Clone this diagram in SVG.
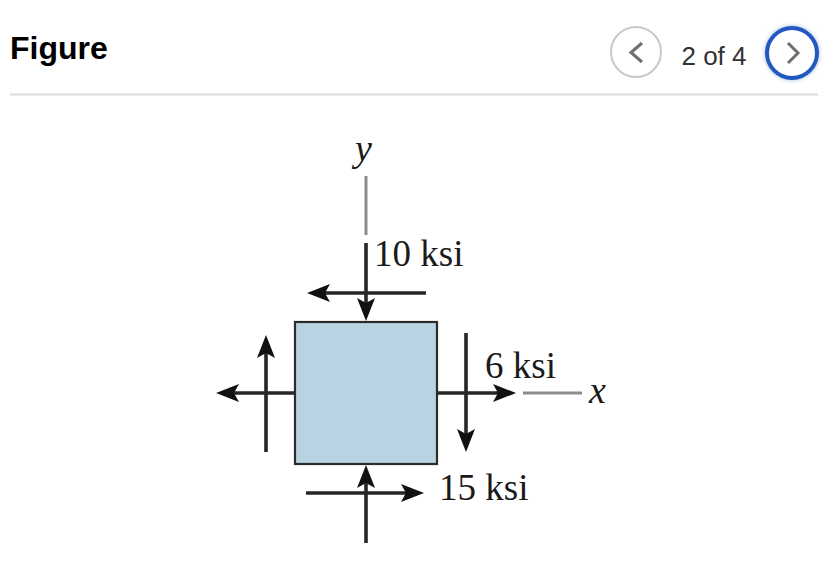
<svg xmlns="http://www.w3.org/2000/svg" width="832" height="582" viewBox="0 0 832 582">
<style>
.ui{font-family:"Liberation Sans",Arial,sans-serif}
.lab{font-family:"Liberation Serif","Times New Roman",serif;font-size:37px;fill:#1a1a1a}
.ax{font-family:"Liberation Serif","Times New Roman",serif;font-size:38px;font-style:italic;fill:#1a1a1a}
.f{stroke:#262626;stroke-width:3.6;fill:none}
.g{stroke:#8c8c8c;stroke-width:3;fill:none}
.h{fill:#111}
.chev{fill:none;stroke:#6b6f6f;stroke-width:3}
</style>
<defs>
<filter id="glow" x="-30%" y="-30%" width="160%" height="160%"><feGaussianBlur stdDeviation="2"/></filter>
<path id="ah" d="M0 0L-23 -9L-18 0L-23 9Z"/>
</defs>
<rect width="832" height="582" fill="#fff"/>
<g id="header">
<text class="ui" x="10" y="59" font-size="32" font-weight="700" fill="#000">Figure</text>
<line x1="10" y1="94.500" x2="818" y2="94.500" stroke="#dcdcdc" stroke-width="2"/>
</g>
<g id="prev">
<circle cx="636" cy="52" r="25" fill="#fff" stroke="#c9c9c9" stroke-width="2"/>
<path class="chev" d="M642 43L631 52.500L642 62"/>
</g>
<text id="pager" class="ui" x="714" y="65" font-size="26" text-anchor="middle" fill="#333">2 of 4</text>
<g id="next">
<circle cx="792" cy="53" r="27" fill="#9fb8dc" filter="url(#glow)"/>
<circle cx="792" cy="53" r="25" fill="#fff" stroke="#2159c0" stroke-width="4"/>
<path class="chev" d="M788 43L798 53L788 63"/>
</g>
<g id="connectors">
<path class="g" d="M366 176V235M523 393H582"/>
<path class="f" d="M366 243V305M426 293H322M295 393H231M266 452V350M437 393H501M466 333V437M366 543V480M306 493H409"/>
<use href="#ah" class="h" transform="translate(366 321) rotate(90)"/>
<use href="#ah" class="h" transform="translate(307 293) rotate(180)"/>
<use href="#ah" class="h" transform="translate(216 393) rotate(180)"/>
<use href="#ah" class="h" transform="translate(266 335) rotate(-90)"/>
<use href="#ah" class="h" transform="translate(516 393)"/>
<use href="#ah" class="h" transform="translate(466 452) rotate(90)"/>
<use href="#ah" class="h" transform="translate(366 465) rotate(-90)"/>
<use href="#ah" class="h" transform="translate(424 493)"/>
</g>
<g id="element"><rect x="295" y="322" width="142" height="142" fill="#b8d3e2" stroke="#2b2b2b" stroke-width="2.200"/></g>
<g id="labels">
<text class="ax" x="355" y="161">y</text>
<text class="ax" x="589" y="403">x</text>
<text class="lab" x="374" y="266">10 ksi</text>
<text class="lab" x="485" y="378">6 ksi</text>
<text class="lab" x="439" y="500">15 ksi</text>
</g>
</svg>
